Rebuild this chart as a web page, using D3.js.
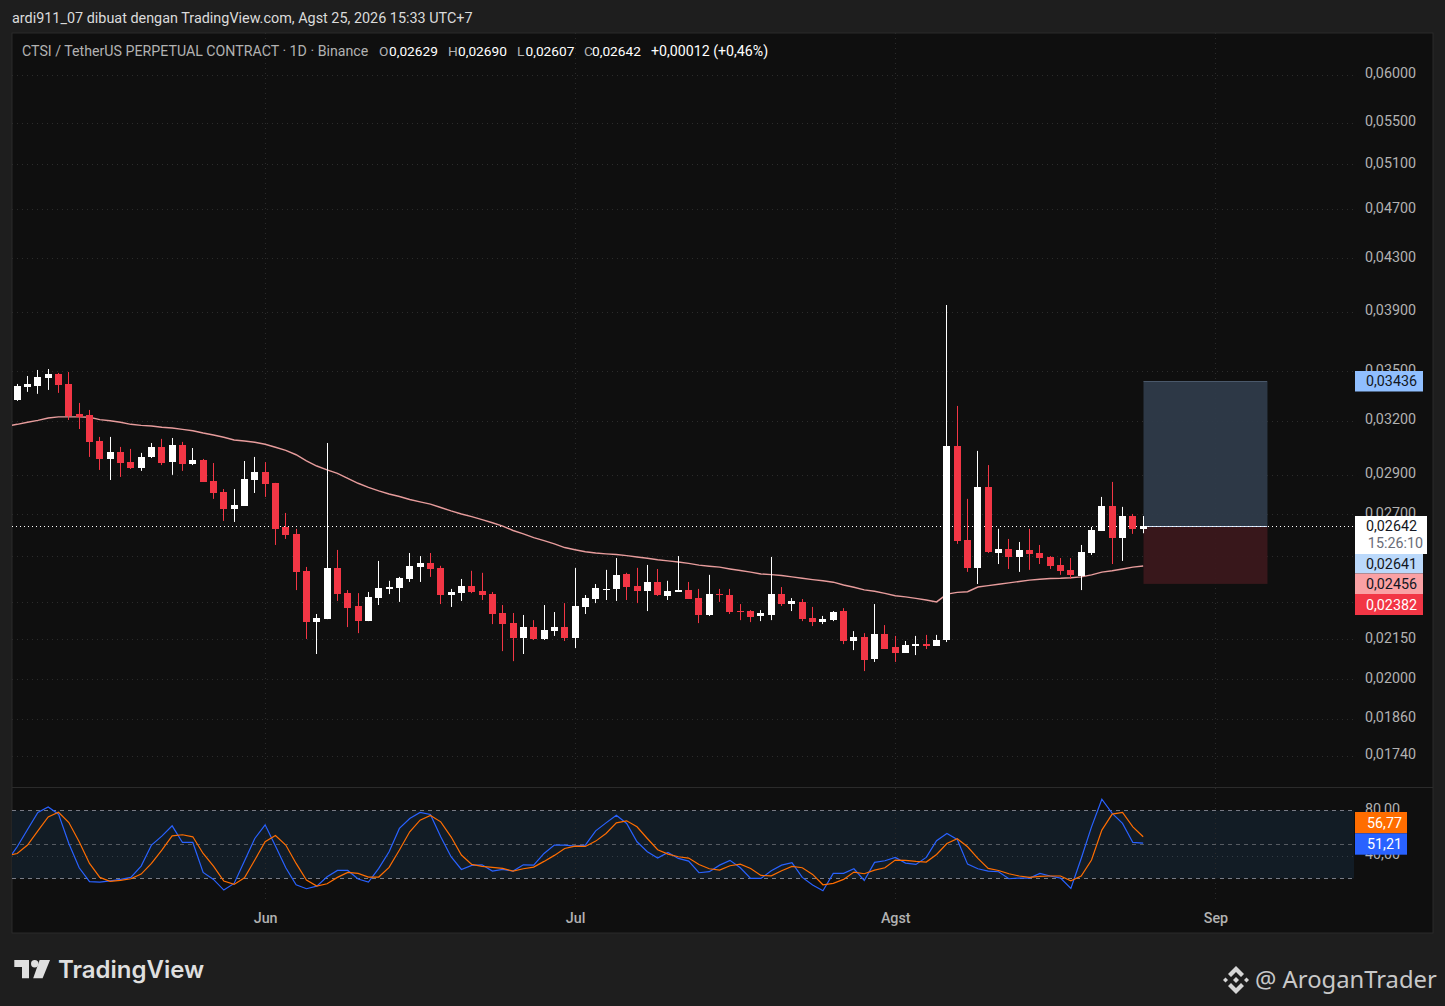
<!DOCTYPE html>
<html>
<head>
<meta charset="utf-8">
<script src="https://d3js.org/d3.v7.min.js"></script>
<style>
  html, body { margin:0; padding:0; background:#1e1e1e; }
  svg { display:block; }
  text { font-family:"Roboto", sans-serif; }
</style>
</head>
<body>
<svg id="chart" width="1445" height="1006"></svg>
<script>
// daily candles, first one is 8 May
const opens = [.03322,.03402,.03408,.03458,.03483,.03420,.03238,.03232,.03083,.02984,.03022,.02967,.02936,.02995,.03050,.02967,.03061,.02957,.02978,.02867,
  .02810,.02725,.02740,.02872,.02914,.02857,.02637,.02604,.02435,.02218,.02230,.02448,.02338,.02284,.02222,.02317,.02356,.02360,.02399,.02452,
  .02470,.02448,.02330,.02338,.02369,.02347,.02334,.02255,.02214,.02155,.02198,.02151,.02182,.02198,.02155,.02280,.02313,.02351,.02356,.02421,
  .02369,.02347,.02386,.02326,.02343,.02351,.02317,.02247,.02334,.02330,.02263,.02263,.02243,.02247,.02334,.02292,.02301,.02234,.02218,.02226,
  .02263,.02143,.02159,.02074,.02170,.02120,.02097,.02124,.02131,.02124,.02147,.03055,.02575,.02448,.02836,.02515,.02534,.02497,.02529,.02515,
  .02497,.02461,.02439,.02413,.02515,.02618,.02740,.02585,.02691,.02629];
const highs = [.03420,.03470,.03508,.03514,.03489,.03495,.03304,.03262,.03106,.03106,.03050,.03039,.03017,.03072,.03095,.03100,.03078,.03044,.02984,.02962,
  .02825,.02825,.02973,.02995,.02967,.02857,.02705,.02628,.02452,.02251,.03072,.02529,.02351,.02338,.02343,.02479,.02391,.02408,.02515,.02501,
  .02515,.02457,.02356,.02399,.02435,.02426,.02343,.02288,.02255,.02247,.02226,.02288,.02259,.02296,.02448,.02330,.02377,.02439,.02492,.02426,
  .02448,.02461,.02443,.02391,.02501,.02386,.02356,.02417,.02356,.02356,.02292,.02267,.02267,.02497,.02364,.02317,.02313,.02280,.02243,.02263,
  .02275,.02182,.02174,.02292,.02206,.02163,.02143,.02163,.02167,.02167,.03948,.03286,.02775,.03028,.02951,.02628,.02580,.02566,.02628,.02552,
  .02501,.02492,.02492,.02552,.02637,.02785,.02862,.02735,.02700,.02690];
const lows = [.03316,.03371,.03359,.03383,.03365,.03203,.03151,.02995,.02925,.02872,.02888,.02930,.02920,.02989,.02951,.02899,.02920,.02951,.02862,.02775,
  .02666,.02661,.02740,.02805,.02785,.02552,.02580,.02351,.02151,.02093,.02230,.02305,.02198,.02174,.02222,.02288,.02334,.02301,.02386,.02386,
  .02408,.02292,.02280,.02305,.02338,.02309,.02210,.02104,.02066,.02093,.02147,.02147,.02163,.02143,.02116,.02251,.02296,.02309,.02305,.02309,
  .02296,.02263,.02326,.02309,.02343,.02313,.02214,.02243,.02301,.02251,.02226,.02218,.02222,.02226,.02284,.02263,.02222,.02202,.02210,.02222,
  .02131,.02108,.02029,.02063,.02112,.02063,.02097,.02089,.02112,.02124,.02139,.02557,.02430,.02377,.02515,.02465,.02443,.02430,.02439,.02465,
  .02443,.02417,.02399,.02351,.02506,.02618,.02465,.02479,.02604,.02607];
const closes = [.03408,.03420,.03464,.03483,.03414,.03226,.03220,.03078,.02984,.03022,.02962,.02936,.02995,.03050,.02962,.03061,.02957,.02978,.02862,.02805,
  .02725,.02745,.02877,.02914,.02851,.02628,.02599,.02430,.02218,.02234,.02448,.02334,.02275,.02222,.02322,.02360,.02364,.02404,.02457,.02470,
  .02443,.02330,.02343,.02369,.02343,.02330,.02251,.02210,.02155,.02198,.02151,.02186,.02198,.02155,.02284,.02317,.02360,.02356,.02417,.02364,
  .02347,.02386,.02330,.02347,.02351,.02313,.02247,.02334,.02330,.02259,.02259,.02238,.02255,.02334,.02292,.02305,.02230,.02218,.02230,.02259,
  .02143,.02159,.02070,.02170,.02112,.02097,.02128,.02131,.02124,.02147,.03055,.02570,.02448,.02836,.02520,.02534,.02497,.02529,.02511,.02492,
  .02457,.02435,.02417,.02520,.02623,.02740,.02585,.02691,.02628,.02642];

// moving average, first value belongs to the day before the first candle
const maValues = [.03168,.03178,.03190,.03201,.03215,.03221,.03221,.03221,.03219,.03205,.03199,.03190,.03178,.03172,.03168,.03161,.03157,.03149,.03141,.03128,.03117,
  .03104,.03089,.03083,.03076,.03065,.03048,.03031,.03007,.02974,.02946,.02925,.02907,.02881,.02855,.02834,.02816,.02800,.02787,.02772,.02760,
  .02749,.02732,.02715,.02700,.02687,.02672,.02657,.02641,.02620,.02604,.02586,.02572,.02557,.02540,.02530,.02521,.02515,.02511,.02508,.02503,
  .02497,.02491,.02484,.02479,.02474,.02468,.02460,.02455,.02451,.02443,.02436,.02429,.02421,.02418,.02414,.02408,.02402,.02396,.02391,.02385,
  .02373,.02363,.02352,.02346,.02337,.02327,.02322,.02316,.02309,.02301,.02334,.02341,.02344,.02364,.02370,.02376,.02382,.02388,.02394,.02398,
  .02401,.02402,.02404,.02408,.02417,.02429,.02435,.02443,.02451,.02456];

// lower pane, first value again the day before the first candle
const kValues = [35,47.9,63.2,78.2,83.1,76.7,50.8,29.4,17.1,16.8,17.9,19.1,20.9,30.9,49.4,57.3,66.4,51.7,51.7,25.3,19.1,
  9.7,15.6,35.3,55.2,67.3,48.5,29.4,14.4,10.9,13.2,21.5,27,27,19.4,16.8,28.8,43.5,64.1,72.9,78.2,
  76.4,56.7,39.1,27.9,31.5,32,26.5,27.9,26.5,32,31.7,42,49.4,49.4,48.5,49.4,62,69,75.8,68.5,
  52.3,43.5,37.9,42.9,37.6,35.3,25,25.9,31.7,35.9,29.4,20,20,26.8,31.7,33.8,20.9,14.1,9.1,24.4,
  24.4,28.5,18.2,34.1,35.6,38.5,33.5,32.3,38.5,53.2,59.6,54.4,32.6,28.5,26.5,25.9,19.7,20.3,20.3,24.4,
  22.1,20.3,11.2,37.6,65.5,89.9,77.3,68.5,51.7,51.21];
const dValues = [40,42,49.4,62,74.3,78.4,69.3,52.3,33.2,20.9,17.4,18.2,19.7,23.8,33.2,45,57.6,58.5,56.7,42,30.9,
  17.7,14.7,20.6,36.2,52.3,57.9,49.4,33.2,18.5,13.2,15.3,20.9,25.3,24.4,21.2,21.2,29.7,45,61.1,71.4,
  75.5,69.9,56.7,40.6,32.3,30.6,29.7,28.8,26.5,28.5,30,35,40.3,46.4,48.5,48.2,52.9,59.6,69,70.8,
  65.5,55.2,45.3,41.4,39.1,37.9,32.3,28.5,27.3,31.2,32.6,28.8,22.6,22.3,26.8,30.6,29.4,23.5,14.4,15.6,
  19.1,25.6,24.1,27.3,29.4,36.2,35.9,35,34.4,41.1,50.8,55,47.9,37.6,28.8,27,24.1,22.1,20.9,21.8,
  22.1,22.1,17.9,22.1,36.2,62.6,76.7,78.2,65.5,56.77];

const gridPrices = [.06,.055,.051,.047,.043,.039,.035,.032,.029,.027,.025,.023,.0215,.02,.0186,.0174];
// .025 and .023 sit fully behind the price tags in the picture
const priceLabels = [.06,.055,.051,.047,.043,.039,.035,.032,.029,.027,.0215,.02,.0186,.0174];
const oscTicks = [80,40];
const monthLabels = ["Jun","Jul","Agst","Sep"];
const monthDays = [24,54,85,116];   // candle index of the 1st of the month
const bandLevels = [80,50,20];

const lastPrice = .02642;
const targetPrice = .03436, entryPrice = .02641, stopPrice = .02382;
const boxFromDay = 109, boxToDay = 121;

const headerText = "ardi911_07 dibuat dengan TradingView.com, Agst 25, 2026 15:33 UTC+7";
const symbolText = "CTSI / TetherUS PERPETUAL CONTRACT · 1D · Binance";

const UP = "#ffffff", DOWN = "#f23645", GRID = "#2c2c2c", AXISTEXT = "#b2b2b2";
const FS = "14.3px";

const idLocale = d3.formatLocale({decimal:",", thousands:".", grouping:[3], currency:["",""]});
const fmtPrice = idLocale.format(".5f");
const fmtOsc = idLocale.format(".2f");

const svg = d3.select("#chart");
const paneL = 12, paneR = 1354, outerR = 1433;

// scales
const x = d3.scaleLinear().domain([0,109]).range([17.2,1143.17]);
const px = i => Math.floor(x(i)) + 0.5;
const y = d3.scaleLog().domain([.06,.0174]).range([74.8,755.6]);
const yo = d3.scaleLinear().domain([80,20]).range([810.4,878.4]);

// frame
svg.append("rect").attr("x",paneL).attr("y",33).attr("width",outerR-paneL).attr("height",900)
  .attr("fill","#0f0f0f").attr("stroke","#2b2b2b");
svg.append("line").attr("x1",paneL).attr("x2",outerR).attr("y1",787.5).attr("y2",787.5).attr("stroke","#2b2b2b");

svg.append("defs").append("clipPath").attr("id","paneclip")
  .append("rect").attr("x",paneL).attr("y",33).attr("width",paneR-paneL).attr("height",900);

// lower pane background goes under the grid
const osc = svg.append("g");
osc.append("rect").attr("x",paneL).attr("width",paneR-paneL)
  .attr("y",yo(80)).attr("height",yo(20)-yo(80)).attr("fill","#121c25");
osc.append("line").attr("x1",paneL).attr("x2",paneR)
  .attr("y1",Math.round(yo(40))+0.5).attr("y2",Math.round(yo(40))+0.5)
  .attr("stroke","#333c44").attr("stroke-dasharray","1 4");
osc.selectAll(".band").data(bandLevels).enter().append("line")
  .attr("x1",paneL).attr("x2",paneR)
  .attr("y1",d => Math.round(yo(d))+0.5).attr("y2",d => Math.round(yo(d))+0.5)
  .attr("stroke",d => d == 50 ? "#565b62" : "#787b86").attr("stroke-dasharray","4 4");

// grid
const grid = svg.append("g");
grid.selectAll(".hg").data(gridPrices).enter().append("line")
  .attr("x1",paneL).attr("x2",paneR)
  .attr("y1",d => Math.round(y(d))+0.5).attr("y2",d => Math.round(y(d))+0.5)
  .attr("stroke",GRID).attr("stroke-dasharray","1 4");
grid.selectAll(".vg").data(monthDays).enter().append("line")
  .attr("x1",d => px(d)).attr("x2",d => px(d)).attr("y1",33).attr("y2",900)
  .attr("stroke",GRID).attr("stroke-dasharray","1 4");

// position box
const box = svg.append("g");
box.append("rect").attr("x",px(boxFromDay)).attr("width",x(boxToDay)-x(boxFromDay))
  .attr("y",y(targetPrice)).attr("height",y(entryPrice)-y(targetPrice))
  .attr("fill","#2f3b4a").attr("fill-opacity",.95);
box.append("rect").attr("x",px(boxFromDay)).attr("width",x(boxToDay)-x(boxFromDay))
  .attr("y",y(entryPrice)).attr("height",y(stopPrice)-y(entryPrice)+1)
  .attr("fill","#3b181c").attr("fill-opacity",.95);
box.append("line").attr("x1",px(boxFromDay)).attr("x2",x(boxToDay))
  .attr("y1",Math.round(y(targetPrice))+0.5).attr("y2",Math.round(y(targetPrice))+0.5).attr("stroke","#4a586a");
box.append("line").attr("x1",px(boxFromDay)).attr("x2",x(boxToDay))
  .attr("y1",Math.round(y(entryPrice))+0.5).attr("y2",Math.round(y(entryPrice))+0.5).attr("stroke","#c9dcf5");

// last price line
svg.append("line").attr("x1",paneL).attr("x2",paneR)
  .attr("y1",Math.round(y(lastPrice))+0.5).attr("y2",Math.round(y(lastPrice))+0.5)
  .attr("stroke","#ffffff").attr("stroke-dasharray","1 3");

// moving average
const maLine = d3.line().x((d,i) => x(i-1)).y(d => y(d));
svg.append("path").datum(maValues).attr("d",maLine).attr("clip-path","url(#paneclip)")
  .attr("fill","none").attr("stroke","#e79c9c").attr("stroke-width",1.4);

// candles
const candles = svg.append("g").selectAll("g").data(opens.map((o,i) => i)).enter().append("g");
candles.append("line")
  .attr("x1",i => px(i)).attr("x2",i => px(i))
  .attr("y1",i => y(highs[i])).attr("y2",i => y(lows[i]))
  .attr("stroke",i => closes[i] >= opens[i] ? UP : DOWN);
candles.append("rect")
  .attr("x",i => px(i)-3.5).attr("width",7)
  .attr("y",i => Math.round(y(Math.max(opens[i],closes[i]))))
  .attr("height",i => Math.max(1,Math.round(y(Math.min(opens[i],closes[i])))-Math.round(y(Math.max(opens[i],closes[i])))))
  .attr("fill",i => closes[i] >= opens[i] ? UP : DOWN);

// lower pane lines
const oscLine = d3.line().x((d,i) => x(i-1)).y(d => yo(d));
svg.append("path").datum(kValues).attr("d",oscLine).attr("clip-path","url(#paneclip)")
  .attr("fill","none").attr("stroke","#2962ff").attr("stroke-width",1.2);
svg.append("path").datum(dValues).attr("d",oscLine).attr("clip-path","url(#paneclip)")
  .attr("fill","none").attr("stroke","#ff6d00").attr("stroke-width",1.2);

// axes
function styleAxis(g) {
  g.select(".domain").remove();
  g.selectAll(".tick line").remove();
  g.selectAll("text").attr("fill",AXISTEXT).style("font-family","Roboto, sans-serif").style("font-size",FS);
}
svg.append("g").attr("transform","translate(1365,-1.5)")
  .call(d3.axisRight(y).tickValues(priceLabels).tickFormat(fmtPrice).tickSize(0).tickPadding(0))
  .call(styleAxis);
svg.append("g").attr("transform","translate(1365,-1.5)")
  .call(d3.axisRight(yo).tickValues(oscTicks).tickFormat(fmtOsc).tickSize(0).tickPadding(0))
  .call(styleAxis);
svg.append("g").attr("transform","translate(0,910)")
  .call(d3.axisBottom(x).tickValues(monthDays).tickFormat((d,i) => monthLabels[i]).tickSize(0).tickPadding(3))
  .call(styleAxis)
  .selectAll("text").style("font-weight",500);

// price tags on the axis
function tag(x0, x1, y0, y1, fill, txt, color) {
  svg.append("rect").attr("x",x0).attr("y",y0).attr("width",x1-x0).attr("height",y1-y0).attr("fill",fill);
  svg.append("text").attr("x",1417).attr("y",(y0+y1)/2+5).attr("text-anchor","end")
    .attr("fill",color).style("font-size",FS).text(txt);
}
tag(1355,1423,371,391.5,"#90bfff",fmtPrice(targetPrice),"#131722");
tag(1355,1423,554,573.5,"#bbd9fb",fmtPrice(entryPrice),"#131722");
tag(1355,1423,573.5,594,"#faa1a4",fmtPrice(maValues[maValues.length-1]),"#131722");
tag(1355,1423,594,615,DOWN,fmtPrice(stopPrice),"#ffffff");
// last price with countdown
svg.append("rect").attr("x",1355).attr("y",516).attr("width",72).attr("height",38).attr("fill","#ffffff");
svg.append("text").attr("x",1417).attr("y",531).attr("text-anchor","end").attr("fill","#131722")
  .style("font-size",FS).text(fmtPrice(lastPrice));
svg.append("text").attr("x",1423).attr("y",548).attr("text-anchor","end").attr("fill","#6a6d78")
  .style("font-size",FS).text("15:26:10");
// lower pane tags
function oscTag(y0, y1, fill, val) {
  svg.append("rect").attr("x",1355).attr("y",y0).attr("width",52).attr("height",y1-y0).attr("fill",fill);
  svg.append("text").attr("x",1402).attr("y",(y0+y1)/2+5).attr("text-anchor","end")
    .attr("fill","#ffffff").style("font-size",FS).text(fmtOsc(val));
}
oscTag(812,833.3,"#ff6d00",dValues[dValues.length-1]);
oscTag(833.3,854.7,"#2962ff",kValues[kValues.length-1]);

// header and legend
svg.append("text").attr("x",12).attr("y",23).attr("fill","#dbdbdb").style("font-size","14.4px").text(headerText);
svg.append("text").attr("x",22).attr("y",56).attr("fill",AXISTEXT).style("font-size","14.2px").text(symbolText);
const legendItems = [
  ["O",379,389,fmtPrice(opens[109])],
  ["H",448,458,fmtPrice(highs[109])],
  ["L",517,525.5,fmtPrice(lows[109])],
  ["C",584,592,fmtPrice(closes[109])],
];
legendItems.forEach(d => {
  svg.append("text").attr("x",d[1]).attr("y",56).attr("fill",AXISTEXT).style("font-size","13.7px").text(d[0]);
  svg.append("text").attr("x",d[2]).attr("y",56).attr("fill","#ffffff").style("font-size","13.7px").text(d[3]);
});
svg.append("text").attr("x",651).attr("y",56).attr("fill","#ffffff").style("font-size","14.2px")
  .text("+"+fmtPrice(closes[109]-closes[108]-.00002)+" (+0,46%)");

// footer logos
const tv = svg.append("g").attr("fill","#dfdfdf");
tv.append("path").attr("d","M14.3 960H29V978.3H22V967H14.3Z");
tv.append("circle").attr("cx",34.7).attr("cy",963.8).attr("r",3.7);
tv.append("path").attr("d","M39.6 960H50L42.6 978.3H33.2Z");
svg.append("text").attr("x",58).attr("y",978).attr("fill","#dfdfdf")
  .style("font-family","Inter, sans-serif").style("font-weight",600).style("font-size","24px").text("TradingView");

const bn = svg.append("g").attr("fill","#d6d6d6").attr("transform","translate(1236,980)");
bn.append("path").attr("d","M0 -14L8 -6L5 -3L0 -8L-5 -3L-8 -6Z");
bn.append("path").attr("d","M0 14L8 6L5 3L0 8L-5 3L-8 6Z");
bn.append("path").attr("d","M0 -3L3 0L0 3L-3 0Z");
bn.append("path").attr("d","M-10.5 -2.5L-8 0L-10.5 2.5L-13 0Z");
bn.append("path").attr("d","M10.5 -2.5L13 0L10.5 2.5L8 0Z");
svg.append("text").attr("x",1255).attr("y",988).attr("fill","#c8c8c8")
  .style("font-family","'Noto Sans', sans-serif").style("font-size","23.8px").text("@ AroganTrader");
</script>
</body>
</html>
